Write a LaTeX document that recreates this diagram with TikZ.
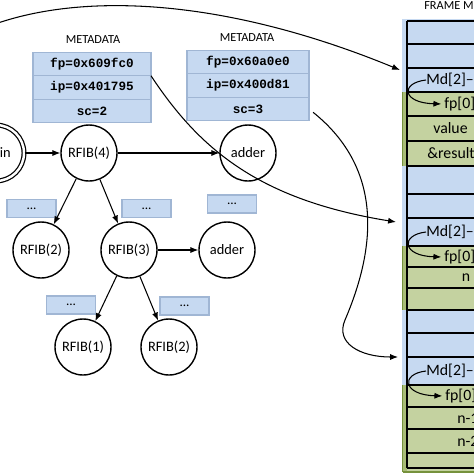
\documentclass[tikz,border=0pt]{standalone}
\usepackage{fontspec}
\setmainfont{Carlito}
\newfontfamily\codefont{Liberation Mono}
\usetikzlibrary{arrows.meta,positioning}

\definecolor{mdblue}{RGB}{198,217,241}
\definecolor{mdedge}{RGB}{160,182,212}
\definecolor{frgreen}{RGB}{196,210,160}
\definecolor{frstrip}{RGB}{168,188,118}
\definecolor{fredge}{RGB}{118,146,60}

\tikzset{
  fn/.style={circle, draw, line width=0.8pt, minimum size=1.12cm, inner sep=0pt,
    font=\fontsize{8.2}{9}\selectfont},
  mdrow/.style={rectangle, fill=mdblue, draw=mdedge, line width=0.6pt, outer sep=0pt,
    minimum height=0.47cm, inner sep=0pt, font=\codefont\bfseries\fontsize{7.2}{9}\selectfont},
  dotbox/.style={rectangle, fill=mdblue, draw=mdedge, line width=0.6pt,
    minimum width=0.98cm, minimum height=0.36cm, inner sep=0pt, font=\fontsize{7.5}{8}\selectfont},
  heading/.style={inner sep=0pt, font=\fontsize{7}{8}\selectfont},
  frtext/.style={inner sep=0pt, anchor=west, font=\fontsize{9}{10}\selectfont},
  link/.style={-{Latex[length=4.5pt,width=3.5pt]}, line width=0.6pt},
}

\begin{document}
\begin{tikzpicture}[x=0.02cm, y=-0.02cm]
    \useasboundingbox (0,0) rectangle (474,474);

    % frame memory
    \foreach \a/\b in {19/92, 166/246, 310/385}
    {\fill[mdblue] (402,\a) rectangle (480,\b);}
    \foreach \a/\b in {92/166, 246/310, 385/472}
    {\fill[frgreen] (402,\a) rectangle (480,\b);
     \fill[frstrip] (402,\a) rectangle (407,\b);
     \draw[fredge, line width=0.8pt] (402.5,\a) -- (402.5,\b);}
    \draw[fredge, line width=0.8pt] (402.5,472) -- (480,472);
    \foreach \y in {21,44,68,92,116,141,166,194,218,246,267,288,310,333,357,385,407,429,453,468}
    {\draw[line width=0.8pt] (407,\y) -- (480,\y);}
    \draw[line width=0.8pt] (407,21) -- (407,468);

    \node[heading, anchor=west] (frlabel) at (424,6) {FRAME MEMORY};

    \node[frtext] (md1) at (426,80) {Md[2]--};
    \node[frtext] (fp1) at (444,104) {fp[0]};
    \node[frtext] (val1) at (433,128) {value};
    \node[frtext] (res1) at (427,153) {\&result};

    \node[frtext] (md2) at (426,232) {Md[2]--};
    \node[frtext] (fp2) at (444,257) {fp[0]};
    \node[frtext, anchor=center] (n2) at (466,278) {n};

    \node[frtext] (md3) at (426,371) {Md[2]--};
    \node[frtext] (fp3) at (445,396) {fp[0]};
    \node[frtext] (na3) at (457,418) {n-1};
    \node[frtext] (nb3) at (457,441) {n-2};

    \foreach \i in {1,2,3}
    {\draw[link, shorten >=1.5pt] (md\i.west) .. controls +(-26,3) and +(-42,-1) .. (fp\i.west);}

    % metadata
    \node[heading] (mdlabA) at (93,40) {METADATA};
    \node[mdrow, minimum width=2.36cm] (m1fp) at (92,64) {fp=0x609fc0};
    \node[mdrow, minimum width=2.36cm, below=0pt of m1fp] (m1ip) {ip=0x401795};
    \node[mdrow, minimum width=2.36cm, below=0pt of m1ip] (m1sc) {sc=2};

    \node[heading] (mdlabB) at (247,38) {METADATA};
    \node[mdrow, minimum width=2.44cm] (m2fp) at (248,62) {fp=0x60a0e0};
    \node[mdrow, minimum width=2.44cm, below=0pt of m2fp] (m2ip) {ip=0x400d81};
    \node[mdrow, minimum width=2.44cm, below=0pt of m2ip] (m2sc) {sc=3};

    % call tree
    \node[fn, double, double distance=1.4pt, line width=0.7pt] (main) at (-4,153) {main};
    \node[fn] (rfibA) at (89,153) {RFIB(4)};
    \node[fn] (adderA) at (248,153) {adder};
    \node[fn] (rfibB) at (41,250) {RFIB(2)};
    \node[fn] (rfibC) at (129,250) {RFIB(3)};
    \node[fn] (adderB) at (227,250) {adder};
    \node[fn] (rfibD) at (83,347) {RFIB(1)};
    \node[fn] (rfibE) at (169,347) {RFIB(2)};

    \node[dotbox] (dA) at (31.5,208.5) {...};
    \node[dotbox] (dB) at (146.5,208.5) {...};
    \node[dotbox] (dC) at (232,204) {...};
    \node[dotbox] (dD) at (71,305) {...};
    \node[dotbox] (dE) at (184.5,306) {...};

    \draw[link] (main) -- (rfibA);
    \draw[link] (rfibA) -- (adderA);
    \draw[link] (rfibA) -- (rfibB);
    \draw[link] (rfibA) -- (rfibC);
    \draw[link] (rfibC) -- (adderB);
    \draw[link] (rfibC) -- (rfibD);
    \draw[link] (rfibC) -- (rfibE);

    % pointers into frame memory
    \coordinate (topend) at (-2,23);
    \coordinate (t1) at (400,70);
    \coordinate (t2) at (396,222);
    \coordinate (t3) at (398,357);
    \draw[link] (topend) .. controls (90,-8) and (230,0) .. (t1);
    \draw[link] (m1ip.north east) .. controls (200,150) and (260,200) .. (t2);
    \draw[link, shorten <=3pt] (m2sc.east) .. controls (385,170) and (375,250) .. (345,320)
        .. controls (335,343) and (360,357) .. (t3);
\end{tikzpicture}
\end{document}
